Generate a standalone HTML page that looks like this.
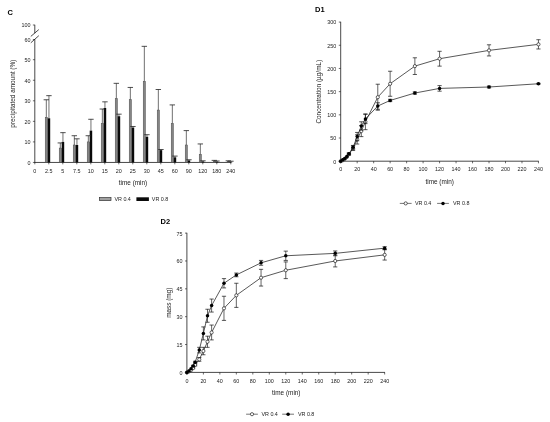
<!DOCTYPE html>
<html><head><meta charset="utf-8"><title>Figure</title>
<style>html,body{margin:0;padding:0;background:#fff;}svg{display:block;}text{font-family:"Liberation Sans",Arial,sans-serif;}</style>
</head><body>
<svg width="550" height="422" viewBox="0 0 550 422">
<rect width="550" height="422" fill="#fff"/>
<line x1="34.80" y1="162.75" x2="34.80" y2="39.30" stroke="#1a1a1a" stroke-width="0.8"/>
<line x1="34.80" y1="33.20" x2="34.80" y2="24.80" stroke="#1a1a1a" stroke-width="0.8"/>
<line x1="34.50" y1="162.45" x2="231.10" y2="162.45" stroke="#1a1a1a" stroke-width="0.8"/>
<line x1="30.80" y1="36.40" x2="38.80" y2="29.60" stroke="#1a1a1a" stroke-width="0.8"/>
<line x1="30.80" y1="42.80" x2="38.80" y2="35.70" stroke="#1a1a1a" stroke-width="0.8"/>
<line x1="32.90" y1="162.45" x2="34.80" y2="162.45" stroke="#1a1a1a" stroke-width="0.65"/>
<text x="30.60" y="164.75" font-size="5.4" text-anchor="end" font-weight="normal" fill="#222">0</text>
<line x1="32.90" y1="141.90" x2="34.80" y2="141.90" stroke="#1a1a1a" stroke-width="0.65"/>
<text x="30.60" y="144.20" font-size="5.4" text-anchor="end" font-weight="normal" fill="#222">10</text>
<line x1="32.90" y1="121.35" x2="34.80" y2="121.35" stroke="#1a1a1a" stroke-width="0.65"/>
<text x="30.60" y="123.65" font-size="5.4" text-anchor="end" font-weight="normal" fill="#222">20</text>
<line x1="32.90" y1="100.80" x2="34.80" y2="100.80" stroke="#1a1a1a" stroke-width="0.65"/>
<text x="30.60" y="103.10" font-size="5.4" text-anchor="end" font-weight="normal" fill="#222">30</text>
<line x1="32.90" y1="80.25" x2="34.80" y2="80.25" stroke="#1a1a1a" stroke-width="0.65"/>
<text x="30.60" y="82.55" font-size="5.4" text-anchor="end" font-weight="normal" fill="#222">40</text>
<line x1="32.90" y1="59.70" x2="34.80" y2="59.70" stroke="#1a1a1a" stroke-width="0.65"/>
<text x="30.60" y="62.00" font-size="5.4" text-anchor="end" font-weight="normal" fill="#222">50</text>
<line x1="32.90" y1="39.50" x2="34.80" y2="39.50" stroke="#1a1a1a" stroke-width="0.65"/>
<text x="30.60" y="41.80" font-size="5.4" text-anchor="end" font-weight="normal" fill="#222">60</text>
<line x1="32.90" y1="25.00" x2="34.80" y2="25.00" stroke="#1a1a1a" stroke-width="0.65"/>
<text x="30.60" y="27.30" font-size="5.4" text-anchor="end" font-weight="normal" fill="#222">100</text>
<line x1="34.80" y1="162.45" x2="34.80" y2="164.35" stroke="#1a1a1a" stroke-width="0.65"/>
<text x="34.80" y="172.75" font-size="5.4" text-anchor="middle" font-weight="normal" fill="#222">0</text>
<line x1="48.80" y1="162.45" x2="48.80" y2="164.35" stroke="#1a1a1a" stroke-width="0.65"/>
<text x="48.80" y="172.75" font-size="5.4" text-anchor="middle" font-weight="normal" fill="#222">2.5</text>
<line x1="62.80" y1="162.45" x2="62.80" y2="164.35" stroke="#1a1a1a" stroke-width="0.65"/>
<text x="62.80" y="172.75" font-size="5.4" text-anchor="middle" font-weight="normal" fill="#222">5</text>
<line x1="76.80" y1="162.45" x2="76.80" y2="164.35" stroke="#1a1a1a" stroke-width="0.65"/>
<text x="76.80" y="172.75" font-size="5.4" text-anchor="middle" font-weight="normal" fill="#222">7.5</text>
<line x1="90.80" y1="162.45" x2="90.80" y2="164.35" stroke="#1a1a1a" stroke-width="0.65"/>
<text x="90.80" y="172.75" font-size="5.4" text-anchor="middle" font-weight="normal" fill="#222">10</text>
<line x1="104.80" y1="162.45" x2="104.80" y2="164.35" stroke="#1a1a1a" stroke-width="0.65"/>
<text x="104.80" y="172.75" font-size="5.4" text-anchor="middle" font-weight="normal" fill="#222">15</text>
<line x1="118.80" y1="162.45" x2="118.80" y2="164.35" stroke="#1a1a1a" stroke-width="0.65"/>
<text x="118.80" y="172.75" font-size="5.4" text-anchor="middle" font-weight="normal" fill="#222">20</text>
<line x1="132.80" y1="162.45" x2="132.80" y2="164.35" stroke="#1a1a1a" stroke-width="0.65"/>
<text x="132.80" y="172.75" font-size="5.4" text-anchor="middle" font-weight="normal" fill="#222">25</text>
<line x1="146.80" y1="162.45" x2="146.80" y2="164.35" stroke="#1a1a1a" stroke-width="0.65"/>
<text x="146.80" y="172.75" font-size="5.4" text-anchor="middle" font-weight="normal" fill="#222">30</text>
<line x1="160.80" y1="162.45" x2="160.80" y2="164.35" stroke="#1a1a1a" stroke-width="0.65"/>
<text x="160.80" y="172.75" font-size="5.4" text-anchor="middle" font-weight="normal" fill="#222">45</text>
<line x1="174.80" y1="162.45" x2="174.80" y2="164.35" stroke="#1a1a1a" stroke-width="0.65"/>
<text x="174.80" y="172.75" font-size="5.4" text-anchor="middle" font-weight="normal" fill="#222">60</text>
<line x1="188.80" y1="162.45" x2="188.80" y2="164.35" stroke="#1a1a1a" stroke-width="0.65"/>
<text x="188.80" y="172.75" font-size="5.4" text-anchor="middle" font-weight="normal" fill="#222">90</text>
<line x1="202.80" y1="162.45" x2="202.80" y2="164.35" stroke="#1a1a1a" stroke-width="0.65"/>
<text x="202.80" y="172.75" font-size="5.4" text-anchor="middle" font-weight="normal" fill="#222">120</text>
<line x1="216.80" y1="162.45" x2="216.80" y2="164.35" stroke="#1a1a1a" stroke-width="0.65"/>
<text x="216.80" y="172.75" font-size="5.4" text-anchor="middle" font-weight="normal" fill="#222">180</text>
<line x1="230.80" y1="162.45" x2="230.80" y2="164.35" stroke="#1a1a1a" stroke-width="0.65"/>
<text x="230.80" y="172.75" font-size="5.4" text-anchor="middle" font-weight="normal" fill="#222">240</text>
<text x="133.00" y="185.20" font-size="6.4" text-anchor="middle" font-weight="normal" fill="#222">time (min)</text>
<text x="15.10" y="93.70" font-size="6.4" text-anchor="middle" font-weight="normal" fill="#222" transform="rotate(-90 15.10 93.70)">precipitated amount (%)</text>
<text x="7.60" y="14.80" font-size="7.5" text-anchor="start" font-weight="bold" fill="#000">C</text>
<rect x="45.20" y="117.24" width="2.25" height="45.21" fill="#858585" stroke="#444" stroke-width="0.45"/>
<rect x="47.70" y="118.27" width="2.5" height="44.18" fill="#0a0a0a"/>
<line x1="46.32" y1="117.24" x2="46.32" y2="99.77" stroke="#333" stroke-width="0.7"/>
<line x1="43.62" y1="99.77" x2="49.02" y2="99.77" stroke="#222" stroke-width="0.8"/>
<line x1="48.95" y1="118.27" x2="48.95" y2="95.66" stroke="#333" stroke-width="0.7"/>
<line x1="46.25" y1="95.66" x2="51.65" y2="95.66" stroke="#222" stroke-width="0.8"/>
<rect x="59.20" y="148.06" width="2.25" height="14.38" fill="#858585" stroke="#444" stroke-width="0.45"/>
<rect x="61.70" y="141.90" width="2.5" height="20.55" fill="#0a0a0a"/>
<line x1="60.32" y1="148.06" x2="60.32" y2="142.93" stroke="#333" stroke-width="0.7"/>
<line x1="57.62" y1="142.93" x2="63.02" y2="142.93" stroke="#222" stroke-width="0.8"/>
<line x1="62.95" y1="141.90" x2="62.95" y2="132.65" stroke="#333" stroke-width="0.7"/>
<line x1="60.25" y1="132.65" x2="65.65" y2="132.65" stroke="#222" stroke-width="0.8"/>
<rect x="73.20" y="144.98" width="2.25" height="17.47" fill="#858585" stroke="#444" stroke-width="0.45"/>
<rect x="75.70" y="144.98" width="2.5" height="17.47" fill="#0a0a0a"/>
<line x1="74.33" y1="144.98" x2="74.33" y2="135.73" stroke="#333" stroke-width="0.7"/>
<line x1="71.62" y1="135.73" x2="77.03" y2="135.73" stroke="#222" stroke-width="0.8"/>
<line x1="76.95" y1="144.98" x2="76.95" y2="138.82" stroke="#333" stroke-width="0.7"/>
<line x1="74.25" y1="138.82" x2="79.65" y2="138.82" stroke="#222" stroke-width="0.8"/>
<rect x="87.20" y="141.90" width="2.25" height="20.55" fill="#858585" stroke="#444" stroke-width="0.45"/>
<rect x="89.70" y="130.60" width="2.5" height="31.85" fill="#0a0a0a"/>
<line x1="88.33" y1="141.90" x2="88.33" y2="135.73" stroke="#333" stroke-width="0.7"/>
<line x1="85.62" y1="135.73" x2="91.03" y2="135.73" stroke="#222" stroke-width="0.8"/>
<line x1="90.95" y1="130.60" x2="90.95" y2="119.29" stroke="#333" stroke-width="0.7"/>
<line x1="88.25" y1="119.29" x2="93.65" y2="119.29" stroke="#222" stroke-width="0.8"/>
<rect x="101.20" y="123.40" width="2.25" height="39.05" fill="#858585" stroke="#444" stroke-width="0.45"/>
<rect x="103.70" y="107.99" width="2.5" height="54.46" fill="#0a0a0a"/>
<line x1="102.33" y1="123.40" x2="102.33" y2="109.02" stroke="#333" stroke-width="0.7"/>
<line x1="99.62" y1="109.02" x2="105.03" y2="109.02" stroke="#222" stroke-width="0.8"/>
<line x1="104.95" y1="107.99" x2="104.95" y2="101.83" stroke="#333" stroke-width="0.7"/>
<line x1="102.25" y1="101.83" x2="107.65" y2="101.83" stroke="#222" stroke-width="0.8"/>
<rect x="115.20" y="98.74" width="2.25" height="63.71" fill="#858585" stroke="#444" stroke-width="0.45"/>
<rect x="117.70" y="116.21" width="2.5" height="46.24" fill="#0a0a0a"/>
<line x1="116.33" y1="98.74" x2="116.33" y2="83.33" stroke="#333" stroke-width="0.7"/>
<line x1="113.62" y1="83.33" x2="119.03" y2="83.33" stroke="#222" stroke-width="0.8"/>
<line x1="118.95" y1="116.21" x2="118.95" y2="114.16" stroke="#333" stroke-width="0.7"/>
<line x1="116.25" y1="114.16" x2="121.65" y2="114.16" stroke="#222" stroke-width="0.8"/>
<rect x="129.20" y="99.77" width="2.25" height="62.68" fill="#858585" stroke="#444" stroke-width="0.45"/>
<rect x="131.70" y="127.51" width="2.5" height="34.94" fill="#0a0a0a"/>
<line x1="130.33" y1="99.77" x2="130.33" y2="87.44" stroke="#333" stroke-width="0.7"/>
<line x1="127.63" y1="87.44" x2="133.03" y2="87.44" stroke="#222" stroke-width="0.8"/>
<line x1="132.95" y1="127.51" x2="132.95" y2="126.49" stroke="#333" stroke-width="0.7"/>
<line x1="130.25" y1="126.49" x2="135.65" y2="126.49" stroke="#222" stroke-width="0.8"/>
<rect x="143.20" y="81.28" width="2.25" height="81.17" fill="#858585" stroke="#444" stroke-width="0.45"/>
<rect x="145.70" y="136.76" width="2.5" height="25.69" fill="#0a0a0a"/>
<line x1="144.33" y1="81.28" x2="144.33" y2="46.34" stroke="#333" stroke-width="0.7"/>
<line x1="141.63" y1="46.34" x2="147.03" y2="46.34" stroke="#222" stroke-width="0.8"/>
<line x1="146.95" y1="136.76" x2="146.95" y2="134.71" stroke="#333" stroke-width="0.7"/>
<line x1="144.25" y1="134.71" x2="149.65" y2="134.71" stroke="#222" stroke-width="0.8"/>
<rect x="157.20" y="110.05" width="2.25" height="52.40" fill="#858585" stroke="#444" stroke-width="0.45"/>
<rect x="159.70" y="150.12" width="2.5" height="12.33" fill="#0a0a0a"/>
<line x1="158.33" y1="110.05" x2="158.33" y2="89.50" stroke="#333" stroke-width="0.7"/>
<line x1="155.63" y1="89.50" x2="161.03" y2="89.50" stroke="#222" stroke-width="0.8"/>
<line x1="160.95" y1="150.12" x2="160.95" y2="149.50" stroke="#333" stroke-width="0.7"/>
<line x1="158.25" y1="149.50" x2="163.65" y2="149.50" stroke="#222" stroke-width="0.8"/>
<rect x="171.20" y="123.40" width="2.25" height="39.05" fill="#858585" stroke="#444" stroke-width="0.45"/>
<rect x="173.70" y="157.31" width="2.5" height="5.14" fill="#0a0a0a"/>
<line x1="172.33" y1="123.40" x2="172.33" y2="104.91" stroke="#333" stroke-width="0.7"/>
<line x1="169.63" y1="104.91" x2="175.03" y2="104.91" stroke="#222" stroke-width="0.8"/>
<line x1="174.95" y1="157.31" x2="174.95" y2="156.08" stroke="#333" stroke-width="0.7"/>
<line x1="172.25" y1="156.08" x2="177.65" y2="156.08" stroke="#222" stroke-width="0.8"/>
<rect x="185.20" y="144.98" width="2.25" height="17.47" fill="#858585" stroke="#444" stroke-width="0.45"/>
<rect x="187.70" y="160.39" width="2.5" height="2.06" fill="#0a0a0a"/>
<line x1="186.33" y1="144.98" x2="186.33" y2="130.60" stroke="#333" stroke-width="0.7"/>
<line x1="183.63" y1="130.60" x2="189.03" y2="130.60" stroke="#222" stroke-width="0.8"/>
<line x1="188.95" y1="160.39" x2="188.95" y2="159.78" stroke="#333" stroke-width="0.7"/>
<line x1="186.25" y1="159.78" x2="191.65" y2="159.78" stroke="#222" stroke-width="0.8"/>
<rect x="199.20" y="154.23" width="2.25" height="8.22" fill="#858585" stroke="#444" stroke-width="0.45"/>
<rect x="201.70" y="161.42" width="2.5" height="1.03" fill="#0a0a0a"/>
<line x1="200.33" y1="154.23" x2="200.33" y2="143.95" stroke="#333" stroke-width="0.7"/>
<line x1="197.63" y1="143.95" x2="203.03" y2="143.95" stroke="#222" stroke-width="0.8"/>
<line x1="202.95" y1="161.42" x2="202.95" y2="160.81" stroke="#333" stroke-width="0.7"/>
<line x1="200.25" y1="160.81" x2="205.65" y2="160.81" stroke="#222" stroke-width="0.8"/>
<rect x="213.20" y="161.01" width="2.25" height="1.44" fill="#858585" stroke="#444" stroke-width="0.45"/>
<rect x="215.70" y="161.63" width="2.5" height="0.82" fill="#0a0a0a"/>
<line x1="214.33" y1="161.01" x2="214.33" y2="160.39" stroke="#333" stroke-width="0.7"/>
<line x1="211.63" y1="160.39" x2="217.03" y2="160.39" stroke="#222" stroke-width="0.8"/>
<line x1="216.95" y1="161.63" x2="216.95" y2="161.01" stroke="#333" stroke-width="0.7"/>
<line x1="214.25" y1="161.01" x2="219.65" y2="161.01" stroke="#222" stroke-width="0.8"/>
<rect x="227.20" y="161.42" width="2.25" height="1.03" fill="#858585" stroke="#444" stroke-width="0.45"/>
<rect x="229.70" y="161.83" width="2.5" height="0.62" fill="#0a0a0a"/>
<line x1="228.33" y1="161.42" x2="228.33" y2="160.81" stroke="#333" stroke-width="0.7"/>
<line x1="225.63" y1="160.81" x2="231.03" y2="160.81" stroke="#222" stroke-width="0.8"/>
<line x1="230.95" y1="161.83" x2="230.95" y2="161.22" stroke="#333" stroke-width="0.7"/>
<line x1="228.25" y1="161.22" x2="233.65" y2="161.22" stroke="#222" stroke-width="0.8"/>
<rect x="99.4" y="197.6" width="11.6" height="3.0" fill="#a0a0a0" stroke="#333" stroke-width="0.7"/>
<text x="114.40" y="201.20" font-size="5.4" text-anchor="start" font-weight="normal" fill="#222">VR 0.4</text>
<rect x="136.4" y="197.3" width="12.5" height="3.7" fill="#0a0a0a"/>
<text x="151.80" y="201.20" font-size="5.4" text-anchor="start" font-weight="normal" fill="#222">VR 0.8</text>
<line x1="340.70" y1="161.50" x2="340.70" y2="21.79" stroke="#1a1a1a" stroke-width="0.8"/>
<line x1="340.40" y1="161.20" x2="538.76" y2="161.20" stroke="#1a1a1a" stroke-width="0.8"/>
<line x1="338.80" y1="161.20" x2="340.70" y2="161.20" stroke="#1a1a1a" stroke-width="0.65"/>
<text x="336.30" y="163.60" font-size="5.4" text-anchor="end" font-weight="normal" fill="#222">0</text>
<line x1="338.80" y1="138.01" x2="340.70" y2="138.01" stroke="#1a1a1a" stroke-width="0.65"/>
<text x="336.30" y="140.41" font-size="5.4" text-anchor="end" font-weight="normal" fill="#222">50</text>
<line x1="338.80" y1="114.83" x2="340.70" y2="114.83" stroke="#1a1a1a" stroke-width="0.65"/>
<text x="336.30" y="117.23" font-size="5.4" text-anchor="end" font-weight="normal" fill="#222">100</text>
<line x1="338.80" y1="91.64" x2="340.70" y2="91.64" stroke="#1a1a1a" stroke-width="0.65"/>
<text x="336.30" y="94.04" font-size="5.4" text-anchor="end" font-weight="normal" fill="#222">150</text>
<line x1="338.80" y1="68.46" x2="340.70" y2="68.46" stroke="#1a1a1a" stroke-width="0.65"/>
<text x="336.30" y="70.86" font-size="5.4" text-anchor="end" font-weight="normal" fill="#222">200</text>
<line x1="338.80" y1="45.27" x2="340.70" y2="45.27" stroke="#1a1a1a" stroke-width="0.65"/>
<text x="336.30" y="47.67" font-size="5.4" text-anchor="end" font-weight="normal" fill="#222">250</text>
<line x1="338.80" y1="22.09" x2="340.70" y2="22.09" stroke="#1a1a1a" stroke-width="0.65"/>
<text x="336.30" y="24.49" font-size="5.4" text-anchor="end" font-weight="normal" fill="#222">300</text>
<line x1="340.70" y1="161.20" x2="340.70" y2="163.30" stroke="#1a1a1a" stroke-width="0.65"/>
<text x="340.70" y="171.40" font-size="5.4" text-anchor="middle" font-weight="normal" fill="#222">0</text>
<line x1="357.18" y1="161.20" x2="357.18" y2="163.30" stroke="#1a1a1a" stroke-width="0.65"/>
<text x="357.18" y="171.40" font-size="5.4" text-anchor="middle" font-weight="normal" fill="#222">20</text>
<line x1="373.66" y1="161.20" x2="373.66" y2="163.30" stroke="#1a1a1a" stroke-width="0.65"/>
<text x="373.66" y="171.40" font-size="5.4" text-anchor="middle" font-weight="normal" fill="#222">40</text>
<line x1="390.14" y1="161.20" x2="390.14" y2="163.30" stroke="#1a1a1a" stroke-width="0.65"/>
<text x="390.14" y="171.40" font-size="5.4" text-anchor="middle" font-weight="normal" fill="#222">60</text>
<line x1="406.62" y1="161.20" x2="406.62" y2="163.30" stroke="#1a1a1a" stroke-width="0.65"/>
<text x="406.62" y="171.40" font-size="5.4" text-anchor="middle" font-weight="normal" fill="#222">80</text>
<line x1="423.10" y1="161.20" x2="423.10" y2="163.30" stroke="#1a1a1a" stroke-width="0.65"/>
<text x="423.10" y="171.40" font-size="5.4" text-anchor="middle" font-weight="normal" fill="#222">100</text>
<line x1="439.58" y1="161.20" x2="439.58" y2="163.30" stroke="#1a1a1a" stroke-width="0.65"/>
<text x="439.58" y="171.40" font-size="5.4" text-anchor="middle" font-weight="normal" fill="#222">120</text>
<line x1="456.06" y1="161.20" x2="456.06" y2="163.30" stroke="#1a1a1a" stroke-width="0.65"/>
<text x="456.06" y="171.40" font-size="5.4" text-anchor="middle" font-weight="normal" fill="#222">140</text>
<line x1="472.54" y1="161.20" x2="472.54" y2="163.30" stroke="#1a1a1a" stroke-width="0.65"/>
<text x="472.54" y="171.40" font-size="5.4" text-anchor="middle" font-weight="normal" fill="#222">160</text>
<line x1="489.02" y1="161.20" x2="489.02" y2="163.30" stroke="#1a1a1a" stroke-width="0.65"/>
<text x="489.02" y="171.40" font-size="5.4" text-anchor="middle" font-weight="normal" fill="#222">180</text>
<line x1="505.50" y1="161.20" x2="505.50" y2="163.30" stroke="#1a1a1a" stroke-width="0.65"/>
<text x="505.50" y="171.40" font-size="5.4" text-anchor="middle" font-weight="normal" fill="#222">200</text>
<line x1="521.98" y1="161.20" x2="521.98" y2="163.30" stroke="#1a1a1a" stroke-width="0.65"/>
<text x="521.98" y="171.40" font-size="5.4" text-anchor="middle" font-weight="normal" fill="#222">220</text>
<line x1="538.46" y1="161.20" x2="538.46" y2="163.30" stroke="#1a1a1a" stroke-width="0.65"/>
<text x="538.46" y="171.40" font-size="5.4" text-anchor="middle" font-weight="normal" fill="#222">240</text>
<text x="439.70" y="183.70" font-size="6.4" text-anchor="middle" font-weight="normal" fill="#222">time (min)</text>
<text x="321.20" y="91.70" font-size="6.4" text-anchor="middle" font-weight="normal" fill="#222" transform="rotate(-90 321.20 91.70)">Concentration (µg/mL)</text>
<text x="315.00" y="12.30" font-size="7.5" text-anchor="start" font-weight="bold" fill="#000">D1</text>
<line x1="348.94" y1="155.17" x2="348.94" y2="153.32" stroke="#111" stroke-width="0.65"/>
<line x1="346.84" y1="155.17" x2="351.04" y2="155.17" stroke="#111" stroke-width="0.7"/>
<line x1="346.84" y1="153.32" x2="351.04" y2="153.32" stroke="#111" stroke-width="0.7"/>
<line x1="353.06" y1="150.53" x2="353.06" y2="145.90" stroke="#111" stroke-width="0.65"/>
<line x1="350.96" y1="150.53" x2="355.16" y2="150.53" stroke="#111" stroke-width="0.7"/>
<line x1="350.96" y1="145.90" x2="355.16" y2="145.90" stroke="#111" stroke-width="0.7"/>
<line x1="357.18" y1="144.04" x2="357.18" y2="134.77" stroke="#111" stroke-width="0.65"/>
<line x1="355.08" y1="144.04" x2="359.28" y2="144.04" stroke="#111" stroke-width="0.7"/>
<line x1="355.08" y1="134.77" x2="359.28" y2="134.77" stroke="#111" stroke-width="0.7"/>
<line x1="361.30" y1="136.62" x2="361.30" y2="125.50" stroke="#111" stroke-width="0.65"/>
<line x1="359.20" y1="136.62" x2="363.40" y2="136.62" stroke="#111" stroke-width="0.7"/>
<line x1="359.20" y1="125.50" x2="363.40" y2="125.50" stroke="#111" stroke-width="0.7"/>
<line x1="365.42" y1="129.67" x2="365.42" y2="113.90" stroke="#111" stroke-width="0.65"/>
<line x1="363.32" y1="129.67" x2="367.52" y2="129.67" stroke="#111" stroke-width="0.7"/>
<line x1="363.32" y1="113.90" x2="367.52" y2="113.90" stroke="#111" stroke-width="0.7"/>
<line x1="377.78" y1="110.19" x2="377.78" y2="84.23" stroke="#111" stroke-width="0.65"/>
<line x1="375.68" y1="110.19" x2="379.88" y2="110.19" stroke="#111" stroke-width="0.7"/>
<line x1="375.68" y1="84.23" x2="379.88" y2="84.23" stroke="#111" stroke-width="0.7"/>
<line x1="390.14" y1="96.28" x2="390.14" y2="71.24" stroke="#111" stroke-width="0.65"/>
<line x1="388.04" y1="96.28" x2="392.24" y2="96.28" stroke="#111" stroke-width="0.7"/>
<line x1="388.04" y1="71.24" x2="392.24" y2="71.24" stroke="#111" stroke-width="0.7"/>
<line x1="414.86" y1="74.49" x2="414.86" y2="57.79" stroke="#111" stroke-width="0.65"/>
<line x1="412.76" y1="74.49" x2="416.96" y2="74.49" stroke="#111" stroke-width="0.7"/>
<line x1="412.76" y1="57.79" x2="416.96" y2="57.79" stroke="#111" stroke-width="0.7"/>
<line x1="439.58" y1="66.14" x2="439.58" y2="51.30" stroke="#111" stroke-width="0.65"/>
<line x1="437.48" y1="66.14" x2="441.68" y2="66.14" stroke="#111" stroke-width="0.7"/>
<line x1="437.48" y1="51.30" x2="441.68" y2="51.30" stroke="#111" stroke-width="0.7"/>
<line x1="489.02" y1="55.94" x2="489.02" y2="44.81" stroke="#111" stroke-width="0.65"/>
<line x1="486.92" y1="55.94" x2="491.12" y2="55.94" stroke="#111" stroke-width="0.7"/>
<line x1="486.92" y1="44.81" x2="491.12" y2="44.81" stroke="#111" stroke-width="0.7"/>
<line x1="538.46" y1="48.98" x2="538.46" y2="39.71" stroke="#111" stroke-width="0.65"/>
<line x1="536.36" y1="48.98" x2="540.56" y2="48.98" stroke="#111" stroke-width="0.7"/>
<line x1="536.36" y1="39.71" x2="540.56" y2="39.71" stroke="#111" stroke-width="0.7"/>
<polyline points="340.70,161.20 342.76,160.27 344.82,158.88 346.88,157.03 348.94,154.24 353.06,148.22 357.18,139.41 361.30,131.06 365.42,121.79 377.78,97.21 390.14,83.76 414.86,66.14 439.58,58.72 489.02,50.38 538.46,44.35" fill="none" stroke="#111" stroke-width="0.7"/>
<circle cx="340.70" cy="161.20" r="1.6" fill="#fff" stroke="#111" stroke-width="0.65"/>
<circle cx="342.76" cy="160.27" r="1.6" fill="#fff" stroke="#111" stroke-width="0.65"/>
<circle cx="344.82" cy="158.88" r="1.6" fill="#fff" stroke="#111" stroke-width="0.65"/>
<circle cx="346.88" cy="157.03" r="1.6" fill="#fff" stroke="#111" stroke-width="0.65"/>
<circle cx="348.94" cy="154.24" r="1.6" fill="#fff" stroke="#111" stroke-width="0.65"/>
<circle cx="353.06" cy="148.22" r="1.6" fill="#fff" stroke="#111" stroke-width="0.65"/>
<circle cx="357.18" cy="139.41" r="1.6" fill="#fff" stroke="#111" stroke-width="0.65"/>
<circle cx="361.30" cy="131.06" r="1.6" fill="#fff" stroke="#111" stroke-width="0.65"/>
<circle cx="365.42" cy="121.79" r="1.6" fill="#fff" stroke="#111" stroke-width="0.65"/>
<circle cx="377.78" cy="97.21" r="1.6" fill="#fff" stroke="#111" stroke-width="0.65"/>
<circle cx="390.14" cy="83.76" r="1.6" fill="#fff" stroke="#111" stroke-width="0.65"/>
<circle cx="414.86" cy="66.14" r="1.6" fill="#fff" stroke="#111" stroke-width="0.65"/>
<circle cx="439.58" cy="58.72" r="1.6" fill="#fff" stroke="#111" stroke-width="0.65"/>
<circle cx="489.02" cy="50.38" r="1.6" fill="#fff" stroke="#111" stroke-width="0.65"/>
<circle cx="538.46" cy="44.35" r="1.6" fill="#fff" stroke="#111" stroke-width="0.65"/>
<line x1="348.94" y1="154.71" x2="348.94" y2="152.85" stroke="#111" stroke-width="0.65"/>
<line x1="346.84" y1="154.71" x2="351.04" y2="154.71" stroke="#111" stroke-width="0.7"/>
<line x1="346.84" y1="152.85" x2="351.04" y2="152.85" stroke="#111" stroke-width="0.7"/>
<line x1="353.06" y1="149.14" x2="353.06" y2="145.43" stroke="#111" stroke-width="0.65"/>
<line x1="350.96" y1="149.14" x2="355.16" y2="149.14" stroke="#111" stroke-width="0.7"/>
<line x1="350.96" y1="145.43" x2="355.16" y2="145.43" stroke="#111" stroke-width="0.7"/>
<line x1="357.18" y1="140.80" x2="357.18" y2="132.45" stroke="#111" stroke-width="0.65"/>
<line x1="355.08" y1="140.80" x2="359.28" y2="140.80" stroke="#111" stroke-width="0.7"/>
<line x1="355.08" y1="132.45" x2="359.28" y2="132.45" stroke="#111" stroke-width="0.7"/>
<line x1="361.30" y1="130.13" x2="361.30" y2="121.79" stroke="#111" stroke-width="0.65"/>
<line x1="359.20" y1="130.13" x2="363.40" y2="130.13" stroke="#111" stroke-width="0.7"/>
<line x1="359.20" y1="121.79" x2="363.40" y2="121.79" stroke="#111" stroke-width="0.7"/>
<line x1="365.42" y1="123.64" x2="365.42" y2="114.37" stroke="#111" stroke-width="0.65"/>
<line x1="363.32" y1="123.64" x2="367.52" y2="123.64" stroke="#111" stroke-width="0.7"/>
<line x1="363.32" y1="114.37" x2="367.52" y2="114.37" stroke="#111" stroke-width="0.7"/>
<line x1="377.78" y1="109.27" x2="377.78" y2="102.77" stroke="#111" stroke-width="0.65"/>
<line x1="375.68" y1="109.27" x2="379.88" y2="109.27" stroke="#111" stroke-width="0.7"/>
<line x1="375.68" y1="102.77" x2="379.88" y2="102.77" stroke="#111" stroke-width="0.7"/>
<line x1="390.14" y1="101.61" x2="390.14" y2="99.30" stroke="#111" stroke-width="0.65"/>
<line x1="388.04" y1="101.61" x2="392.24" y2="101.61" stroke="#111" stroke-width="0.7"/>
<line x1="388.04" y1="99.30" x2="392.24" y2="99.30" stroke="#111" stroke-width="0.7"/>
<line x1="414.86" y1="94.20" x2="414.86" y2="91.88" stroke="#111" stroke-width="0.65"/>
<line x1="412.76" y1="94.20" x2="416.96" y2="94.20" stroke="#111" stroke-width="0.7"/>
<line x1="412.76" y1="91.88" x2="416.96" y2="91.88" stroke="#111" stroke-width="0.7"/>
<line x1="439.58" y1="91.18" x2="439.58" y2="85.62" stroke="#111" stroke-width="0.65"/>
<line x1="437.48" y1="91.18" x2="441.68" y2="91.18" stroke="#111" stroke-width="0.7"/>
<line x1="437.48" y1="85.62" x2="441.68" y2="85.62" stroke="#111" stroke-width="0.7"/>
<line x1="489.02" y1="87.94" x2="489.02" y2="86.08" stroke="#111" stroke-width="0.65"/>
<line x1="486.92" y1="87.94" x2="491.12" y2="87.94" stroke="#111" stroke-width="0.7"/>
<line x1="486.92" y1="86.08" x2="491.12" y2="86.08" stroke="#111" stroke-width="0.7"/>
<line x1="538.46" y1="84.23" x2="538.46" y2="83.30" stroke="#111" stroke-width="0.65"/>
<line x1="536.36" y1="84.23" x2="540.56" y2="84.23" stroke="#111" stroke-width="0.7"/>
<line x1="536.36" y1="83.30" x2="540.56" y2="83.30" stroke="#111" stroke-width="0.7"/>
<polyline points="340.70,161.20 342.76,159.81 344.82,158.42 346.88,156.56 348.94,153.78 353.06,147.29 357.18,136.62 361.30,125.96 365.42,119.00 377.78,106.02 390.14,100.46 414.86,93.04 439.58,88.40 489.02,87.01 538.46,83.76" fill="none" stroke="#111" stroke-width="0.7"/>
<circle cx="340.70" cy="161.20" r="1.75" fill="#000"/>
<circle cx="342.76" cy="159.81" r="1.75" fill="#000"/>
<circle cx="344.82" cy="158.42" r="1.75" fill="#000"/>
<circle cx="346.88" cy="156.56" r="1.75" fill="#000"/>
<circle cx="348.94" cy="153.78" r="1.75" fill="#000"/>
<circle cx="353.06" cy="147.29" r="1.75" fill="#000"/>
<circle cx="357.18" cy="136.62" r="1.75" fill="#000"/>
<circle cx="361.30" cy="125.96" r="1.75" fill="#000"/>
<circle cx="365.42" cy="119.00" r="1.75" fill="#000"/>
<circle cx="377.78" cy="106.02" r="1.75" fill="#000"/>
<circle cx="390.14" cy="100.46" r="1.75" fill="#000"/>
<circle cx="414.86" cy="93.04" r="1.75" fill="#000"/>
<circle cx="439.58" cy="88.40" r="1.75" fill="#000"/>
<circle cx="489.02" cy="87.01" r="1.75" fill="#000"/>
<circle cx="538.46" cy="83.76" r="1.75" fill="#000"/>
<line x1="399.80" y1="203.40" x2="411.60" y2="203.40" stroke="#1a1a1a" stroke-width="0.6"/>
<circle cx="405.70" cy="203.40" r="1.6" fill="#fff" stroke="#111" stroke-width="0.65"/>
<text x="414.90" y="205.35" font-size="5.4" text-anchor="start" font-weight="normal" fill="#222">VR 0.4</text>
<line x1="437.10" y1="203.40" x2="448.90" y2="203.40" stroke="#1a1a1a" stroke-width="0.6"/>
<circle cx="443.00" cy="203.40" r="1.75" fill="#000"/>
<text x="453.00" y="205.35" font-size="5.4" text-anchor="start" font-weight="normal" fill="#222">VR 0.8</text>
<line x1="186.90" y1="372.70" x2="186.90" y2="232.82" stroke="#1a1a1a" stroke-width="0.8"/>
<line x1="186.60" y1="372.40" x2="384.96" y2="372.40" stroke="#1a1a1a" stroke-width="0.8"/>
<line x1="185.00" y1="372.40" x2="186.90" y2="372.40" stroke="#1a1a1a" stroke-width="0.65"/>
<text x="182.50" y="374.80" font-size="5.4" text-anchor="end" font-weight="normal" fill="#222">0</text>
<line x1="185.00" y1="344.54" x2="186.90" y2="344.54" stroke="#1a1a1a" stroke-width="0.65"/>
<text x="182.50" y="346.94" font-size="5.4" text-anchor="end" font-weight="normal" fill="#222">15</text>
<line x1="185.00" y1="316.69" x2="186.90" y2="316.69" stroke="#1a1a1a" stroke-width="0.65"/>
<text x="182.50" y="319.09" font-size="5.4" text-anchor="end" font-weight="normal" fill="#222">30</text>
<line x1="185.00" y1="288.83" x2="186.90" y2="288.83" stroke="#1a1a1a" stroke-width="0.65"/>
<text x="182.50" y="291.23" font-size="5.4" text-anchor="end" font-weight="normal" fill="#222">45</text>
<line x1="185.00" y1="260.98" x2="186.90" y2="260.98" stroke="#1a1a1a" stroke-width="0.65"/>
<text x="182.50" y="263.38" font-size="5.4" text-anchor="end" font-weight="normal" fill="#222">60</text>
<line x1="185.00" y1="233.12" x2="186.90" y2="233.12" stroke="#1a1a1a" stroke-width="0.65"/>
<text x="182.50" y="235.52" font-size="5.4" text-anchor="end" font-weight="normal" fill="#222">75</text>
<line x1="186.90" y1="372.40" x2="186.90" y2="374.50" stroke="#1a1a1a" stroke-width="0.65"/>
<text x="186.90" y="382.60" font-size="5.4" text-anchor="middle" font-weight="normal" fill="#222">0</text>
<line x1="203.38" y1="372.40" x2="203.38" y2="374.50" stroke="#1a1a1a" stroke-width="0.65"/>
<text x="203.38" y="382.60" font-size="5.4" text-anchor="middle" font-weight="normal" fill="#222">20</text>
<line x1="219.86" y1="372.40" x2="219.86" y2="374.50" stroke="#1a1a1a" stroke-width="0.65"/>
<text x="219.86" y="382.60" font-size="5.4" text-anchor="middle" font-weight="normal" fill="#222">40</text>
<line x1="236.34" y1="372.40" x2="236.34" y2="374.50" stroke="#1a1a1a" stroke-width="0.65"/>
<text x="236.34" y="382.60" font-size="5.4" text-anchor="middle" font-weight="normal" fill="#222">60</text>
<line x1="252.82" y1="372.40" x2="252.82" y2="374.50" stroke="#1a1a1a" stroke-width="0.65"/>
<text x="252.82" y="382.60" font-size="5.4" text-anchor="middle" font-weight="normal" fill="#222">80</text>
<line x1="269.30" y1="372.40" x2="269.30" y2="374.50" stroke="#1a1a1a" stroke-width="0.65"/>
<text x="269.30" y="382.60" font-size="5.4" text-anchor="middle" font-weight="normal" fill="#222">100</text>
<line x1="285.78" y1="372.40" x2="285.78" y2="374.50" stroke="#1a1a1a" stroke-width="0.65"/>
<text x="285.78" y="382.60" font-size="5.4" text-anchor="middle" font-weight="normal" fill="#222">120</text>
<line x1="302.26" y1="372.40" x2="302.26" y2="374.50" stroke="#1a1a1a" stroke-width="0.65"/>
<text x="302.26" y="382.60" font-size="5.4" text-anchor="middle" font-weight="normal" fill="#222">140</text>
<line x1="318.74" y1="372.40" x2="318.74" y2="374.50" stroke="#1a1a1a" stroke-width="0.65"/>
<text x="318.74" y="382.60" font-size="5.4" text-anchor="middle" font-weight="normal" fill="#222">160</text>
<line x1="335.22" y1="372.40" x2="335.22" y2="374.50" stroke="#1a1a1a" stroke-width="0.65"/>
<text x="335.22" y="382.60" font-size="5.4" text-anchor="middle" font-weight="normal" fill="#222">180</text>
<line x1="351.70" y1="372.40" x2="351.70" y2="374.50" stroke="#1a1a1a" stroke-width="0.65"/>
<text x="351.70" y="382.60" font-size="5.4" text-anchor="middle" font-weight="normal" fill="#222">200</text>
<line x1="368.18" y1="372.40" x2="368.18" y2="374.50" stroke="#1a1a1a" stroke-width="0.65"/>
<text x="368.18" y="382.60" font-size="5.4" text-anchor="middle" font-weight="normal" fill="#222">220</text>
<line x1="384.66" y1="372.40" x2="384.66" y2="374.50" stroke="#1a1a1a" stroke-width="0.65"/>
<text x="384.66" y="382.60" font-size="5.4" text-anchor="middle" font-weight="normal" fill="#222">240</text>
<text x="286.30" y="395.20" font-size="6.4" text-anchor="middle" font-weight="normal" fill="#222">time (min)</text>
<text x="170.70" y="302.70" font-size="6.4" text-anchor="middle" font-weight="normal" fill="#222" transform="rotate(-90 170.70 302.70)">mass (mg)</text>
<text x="160.60" y="223.80" font-size="7.5" text-anchor="start" font-weight="bold" fill="#000">D2</text>
<line x1="193.08" y1="368.69" x2="193.08" y2="367.57" stroke="#111" stroke-width="0.65"/>
<line x1="190.98" y1="368.69" x2="195.18" y2="368.69" stroke="#111" stroke-width="0.7"/>
<line x1="190.98" y1="367.57" x2="195.18" y2="367.57" stroke="#111" stroke-width="0.7"/>
<line x1="195.14" y1="365.90" x2="195.14" y2="364.04" stroke="#111" stroke-width="0.65"/>
<line x1="193.04" y1="365.90" x2="197.24" y2="365.90" stroke="#111" stroke-width="0.7"/>
<line x1="193.04" y1="364.04" x2="197.24" y2="364.04" stroke="#111" stroke-width="0.7"/>
<line x1="199.26" y1="361.26" x2="199.26" y2="357.54" stroke="#111" stroke-width="0.65"/>
<line x1="197.16" y1="361.26" x2="201.36" y2="361.26" stroke="#111" stroke-width="0.7"/>
<line x1="197.16" y1="357.54" x2="201.36" y2="357.54" stroke="#111" stroke-width="0.7"/>
<line x1="203.38" y1="354.76" x2="203.38" y2="347.33" stroke="#111" stroke-width="0.65"/>
<line x1="201.28" y1="354.76" x2="205.48" y2="354.76" stroke="#111" stroke-width="0.7"/>
<line x1="201.28" y1="347.33" x2="205.48" y2="347.33" stroke="#111" stroke-width="0.7"/>
<line x1="207.50" y1="347.33" x2="207.50" y2="336.19" stroke="#111" stroke-width="0.65"/>
<line x1="205.40" y1="347.33" x2="209.60" y2="347.33" stroke="#111" stroke-width="0.7"/>
<line x1="205.40" y1="336.19" x2="209.60" y2="336.19" stroke="#111" stroke-width="0.7"/>
<line x1="211.62" y1="339.90" x2="211.62" y2="325.05" stroke="#111" stroke-width="0.65"/>
<line x1="209.52" y1="339.90" x2="213.72" y2="339.90" stroke="#111" stroke-width="0.7"/>
<line x1="209.52" y1="325.05" x2="213.72" y2="325.05" stroke="#111" stroke-width="0.7"/>
<line x1="223.98" y1="320.40" x2="223.98" y2="296.26" stroke="#111" stroke-width="0.65"/>
<line x1="221.88" y1="320.40" x2="226.08" y2="320.40" stroke="#111" stroke-width="0.7"/>
<line x1="221.88" y1="296.26" x2="226.08" y2="296.26" stroke="#111" stroke-width="0.7"/>
<line x1="236.34" y1="307.40" x2="236.34" y2="283.26" stroke="#111" stroke-width="0.65"/>
<line x1="234.24" y1="307.40" x2="238.44" y2="307.40" stroke="#111" stroke-width="0.7"/>
<line x1="234.24" y1="283.26" x2="238.44" y2="283.26" stroke="#111" stroke-width="0.7"/>
<line x1="261.06" y1="286.05" x2="261.06" y2="269.34" stroke="#111" stroke-width="0.65"/>
<line x1="258.96" y1="286.05" x2="263.16" y2="286.05" stroke="#111" stroke-width="0.7"/>
<line x1="258.96" y1="269.34" x2="263.16" y2="269.34" stroke="#111" stroke-width="0.7"/>
<line x1="285.78" y1="278.62" x2="285.78" y2="261.91" stroke="#111" stroke-width="0.65"/>
<line x1="283.68" y1="278.62" x2="287.88" y2="278.62" stroke="#111" stroke-width="0.7"/>
<line x1="283.68" y1="261.91" x2="287.88" y2="261.91" stroke="#111" stroke-width="0.7"/>
<line x1="335.22" y1="266.92" x2="335.22" y2="255.04" stroke="#111" stroke-width="0.65"/>
<line x1="333.12" y1="266.92" x2="337.32" y2="266.92" stroke="#111" stroke-width="0.7"/>
<line x1="333.12" y1="255.04" x2="337.32" y2="255.04" stroke="#111" stroke-width="0.7"/>
<line x1="384.66" y1="260.05" x2="384.66" y2="249.65" stroke="#111" stroke-width="0.65"/>
<line x1="382.56" y1="260.05" x2="386.76" y2="260.05" stroke="#111" stroke-width="0.7"/>
<line x1="382.56" y1="249.65" x2="386.76" y2="249.65" stroke="#111" stroke-width="0.7"/>
<polyline points="186.90,372.40 188.96,371.47 191.02,370.17 193.08,368.13 195.14,364.97 199.26,359.40 203.38,351.04 207.50,341.76 211.62,332.47 223.98,308.33 236.34,295.33 261.06,277.69 285.78,270.26 335.22,260.98 384.66,254.85" fill="none" stroke="#111" stroke-width="0.7"/>
<circle cx="186.90" cy="372.40" r="1.6" fill="#fff" stroke="#111" stroke-width="0.65"/>
<circle cx="188.96" cy="371.47" r="1.6" fill="#fff" stroke="#111" stroke-width="0.65"/>
<circle cx="191.02" cy="370.17" r="1.6" fill="#fff" stroke="#111" stroke-width="0.65"/>
<circle cx="193.08" cy="368.13" r="1.6" fill="#fff" stroke="#111" stroke-width="0.65"/>
<circle cx="195.14" cy="364.97" r="1.6" fill="#fff" stroke="#111" stroke-width="0.65"/>
<circle cx="199.26" cy="359.40" r="1.6" fill="#fff" stroke="#111" stroke-width="0.65"/>
<circle cx="203.38" cy="351.04" r="1.6" fill="#fff" stroke="#111" stroke-width="0.65"/>
<circle cx="207.50" cy="341.76" r="1.6" fill="#fff" stroke="#111" stroke-width="0.65"/>
<circle cx="211.62" cy="332.47" r="1.6" fill="#fff" stroke="#111" stroke-width="0.65"/>
<circle cx="223.98" cy="308.33" r="1.6" fill="#fff" stroke="#111" stroke-width="0.65"/>
<circle cx="236.34" cy="295.33" r="1.6" fill="#fff" stroke="#111" stroke-width="0.65"/>
<circle cx="261.06" cy="277.69" r="1.6" fill="#fff" stroke="#111" stroke-width="0.65"/>
<circle cx="285.78" cy="270.26" r="1.6" fill="#fff" stroke="#111" stroke-width="0.65"/>
<circle cx="335.22" cy="260.98" r="1.6" fill="#fff" stroke="#111" stroke-width="0.65"/>
<circle cx="384.66" cy="254.85" r="1.6" fill="#fff" stroke="#111" stroke-width="0.65"/>
<line x1="193.08" y1="366.46" x2="193.08" y2="365.34" stroke="#111" stroke-width="0.65"/>
<line x1="190.98" y1="366.46" x2="195.18" y2="366.46" stroke="#111" stroke-width="0.7"/>
<line x1="190.98" y1="365.34" x2="195.18" y2="365.34" stroke="#111" stroke-width="0.7"/>
<line x1="195.14" y1="363.11" x2="195.14" y2="361.26" stroke="#111" stroke-width="0.65"/>
<line x1="193.04" y1="363.11" x2="197.24" y2="363.11" stroke="#111" stroke-width="0.7"/>
<line x1="193.04" y1="361.26" x2="197.24" y2="361.26" stroke="#111" stroke-width="0.7"/>
<line x1="199.26" y1="352.90" x2="199.26" y2="347.33" stroke="#111" stroke-width="0.65"/>
<line x1="197.16" y1="352.90" x2="201.36" y2="352.90" stroke="#111" stroke-width="0.7"/>
<line x1="197.16" y1="347.33" x2="201.36" y2="347.33" stroke="#111" stroke-width="0.7"/>
<line x1="203.38" y1="339.90" x2="203.38" y2="326.90" stroke="#111" stroke-width="0.65"/>
<line x1="201.28" y1="339.90" x2="205.48" y2="339.90" stroke="#111" stroke-width="0.7"/>
<line x1="201.28" y1="326.90" x2="205.48" y2="326.90" stroke="#111" stroke-width="0.7"/>
<line x1="207.50" y1="322.26" x2="207.50" y2="309.26" stroke="#111" stroke-width="0.65"/>
<line x1="205.40" y1="322.26" x2="209.60" y2="322.26" stroke="#111" stroke-width="0.7"/>
<line x1="205.40" y1="309.26" x2="209.60" y2="309.26" stroke="#111" stroke-width="0.7"/>
<line x1="211.62" y1="312.05" x2="211.62" y2="299.05" stroke="#111" stroke-width="0.65"/>
<line x1="209.52" y1="312.05" x2="213.72" y2="312.05" stroke="#111" stroke-width="0.7"/>
<line x1="209.52" y1="299.05" x2="213.72" y2="299.05" stroke="#111" stroke-width="0.7"/>
<line x1="223.98" y1="287.91" x2="223.98" y2="278.62" stroke="#111" stroke-width="0.65"/>
<line x1="221.88" y1="287.91" x2="226.08" y2="287.91" stroke="#111" stroke-width="0.7"/>
<line x1="221.88" y1="278.62" x2="226.08" y2="278.62" stroke="#111" stroke-width="0.7"/>
<line x1="236.34" y1="276.76" x2="236.34" y2="273.05" stroke="#111" stroke-width="0.65"/>
<line x1="234.24" y1="276.76" x2="238.44" y2="276.76" stroke="#111" stroke-width="0.7"/>
<line x1="234.24" y1="273.05" x2="238.44" y2="273.05" stroke="#111" stroke-width="0.7"/>
<line x1="261.06" y1="265.25" x2="261.06" y2="260.42" stroke="#111" stroke-width="0.65"/>
<line x1="258.96" y1="265.25" x2="263.16" y2="265.25" stroke="#111" stroke-width="0.7"/>
<line x1="258.96" y1="260.42" x2="263.16" y2="260.42" stroke="#111" stroke-width="0.7"/>
<line x1="285.78" y1="260.42" x2="285.78" y2="251.14" stroke="#111" stroke-width="0.65"/>
<line x1="283.68" y1="260.42" x2="287.88" y2="260.42" stroke="#111" stroke-width="0.7"/>
<line x1="283.68" y1="251.14" x2="287.88" y2="251.14" stroke="#111" stroke-width="0.7"/>
<line x1="335.22" y1="255.78" x2="335.22" y2="250.95" stroke="#111" stroke-width="0.65"/>
<line x1="333.12" y1="255.78" x2="337.32" y2="255.78" stroke="#111" stroke-width="0.7"/>
<line x1="333.12" y1="250.95" x2="337.32" y2="250.95" stroke="#111" stroke-width="0.7"/>
<line x1="384.66" y1="249.65" x2="384.66" y2="246.68" stroke="#111" stroke-width="0.65"/>
<line x1="382.56" y1="249.65" x2="386.76" y2="249.65" stroke="#111" stroke-width="0.7"/>
<line x1="382.56" y1="246.68" x2="386.76" y2="246.68" stroke="#111" stroke-width="0.7"/>
<polyline points="186.90,372.40 188.96,370.91 191.02,368.69 193.08,365.90 195.14,362.19 199.26,350.12 203.38,333.40 207.50,315.76 211.62,305.55 223.98,283.26 236.34,274.91 261.06,262.84 285.78,255.78 335.22,253.37 384.66,248.17" fill="none" stroke="#111" stroke-width="0.7"/>
<circle cx="186.90" cy="372.40" r="1.75" fill="#000"/>
<circle cx="188.96" cy="370.91" r="1.75" fill="#000"/>
<circle cx="191.02" cy="368.69" r="1.75" fill="#000"/>
<circle cx="193.08" cy="365.90" r="1.75" fill="#000"/>
<circle cx="195.14" cy="362.19" r="1.75" fill="#000"/>
<circle cx="199.26" cy="350.12" r="1.75" fill="#000"/>
<circle cx="203.38" cy="333.40" r="1.75" fill="#000"/>
<circle cx="207.50" cy="315.76" r="1.75" fill="#000"/>
<circle cx="211.62" cy="305.55" r="1.75" fill="#000"/>
<circle cx="223.98" cy="283.26" r="1.75" fill="#000"/>
<circle cx="236.34" cy="274.91" r="1.75" fill="#000"/>
<circle cx="261.06" cy="262.84" r="1.75" fill="#000"/>
<circle cx="285.78" cy="255.78" r="1.75" fill="#000"/>
<circle cx="335.22" cy="253.37" r="1.75" fill="#000"/>
<circle cx="384.66" cy="248.17" r="1.75" fill="#000"/>
<line x1="246.10" y1="414.20" x2="257.90" y2="414.20" stroke="#1a1a1a" stroke-width="0.6"/>
<circle cx="252.00" cy="414.20" r="1.6" fill="#fff" stroke="#111" stroke-width="0.65"/>
<text x="261.40" y="416.15" font-size="5.4" text-anchor="start" font-weight="normal" fill="#222">VR 0.4</text>
<line x1="282.20" y1="414.20" x2="294.00" y2="414.20" stroke="#1a1a1a" stroke-width="0.6"/>
<circle cx="288.10" cy="414.20" r="1.75" fill="#000"/>
<text x="297.90" y="416.15" font-size="5.4" text-anchor="start" font-weight="normal" fill="#222">VR 0.8</text>
</svg>
</body></html>
